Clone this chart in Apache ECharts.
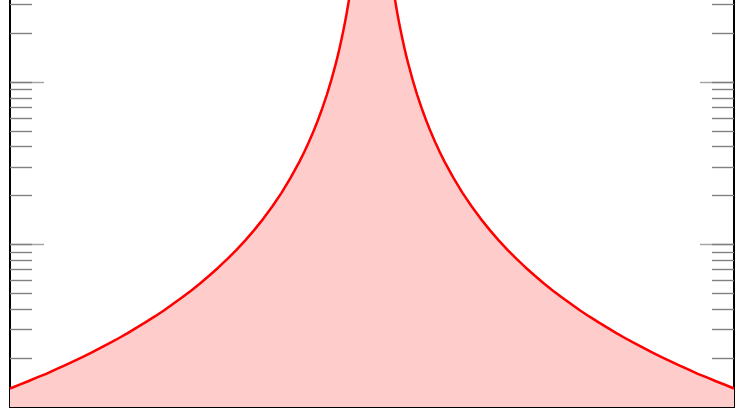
<!DOCTYPE html>
<html>
<head>
<meta charset="utf-8">
<script src="https://cdn.jsdelivr.net/npm/echarts@6/dist/echarts.min.js"></script>
<style>html,body{margin:0;padding:0;background:#fff}#c{width:745px;height:420px}</style>
</head>
<body>
<div id="c"></div>
<script>
// x positions (right half; the curve is symmetric) and the values
const xHalf = [0.03, 0.04, 0.05, 0.055, 0.06, 0.065, 0.07, 0.075, 0.08, 0.085, 0.09, 0.095, 0.10, 0.1125, 0.125, 0.1375, 0.15, 0.1625, 0.175, 0.1875, 0.20, 0.225, 0.25, 0.275, 0.30, 0.325, 0.35, 0.375, 0.40, 0.425, 0.45, 0.475, 0.50, 0.525, 0.55, 0.575, 0.60, 0.625, 0.65, 0.675, 0.70, 0.725, 0.75, 0.775, 0.80, 0.825, 0.85, 0.875, 0.90, 0.925, 0.95, 0.975, 1.00];
const yHalf = [144, 81.3, 52, 43.0, 36.1, 30.8, 26.5, 23.1, 20.3, 18.0, 16.05, 14.4, 13.0, 10.27, 8.32, 6.88, 5.78, 4.92, 4.245, 3.70, 3.25, 2.57, 2.08, 1.719, 1.444, 1.231, 1.061, 0.924, 0.813, 0.720, 0.642, 0.576, 0.520, 0.472, 0.430, 0.393, 0.361, 0.333, 0.308, 0.285, 0.265, 0.247, 0.231, 0.216, 0.203, 0.191, 0.180, 0.170, 0.160, 0.152, 0.144, 0.137, 0.130];
const majorTicks = [1, 10];
const minorTicks = [0.2, 0.3, 0.4, 0.5, 0.6, 0.7, 0.8, 0.9, 1, 2, 3, 4, 5, 6, 7, 8, 9, 10, 20, 30];
const yMin = 0.1, yMax = 32;

const pts = [];
for (let i = xHalf.length - 1; i >= 0; i--) pts.push([-xHalf[i], yHalf[i]]);
for (let i = 0; i < xHalf.length; i++) pts.push([xHalf[i], yHalf[i]]);

function yAx(pos, ticks, len, color, showLine) {
  return {
    type: 'log', logBase: 10, min: yMin, max: yMax, position: pos,
    axisLine: { show: showLine, onZero: false, lineStyle: { color: '#000', width: 2 } },
    axisTick: { show: true, inside: true, length: len, customValues: ticks, lineStyle: { color: color, width: 1.4 } },
    minorTick: { show: false },
    axisLabel: { show: false }, splitLine: { show: false }
  };
}

const chart = echarts.init(document.getElementById('c'), null, { renderer: 'canvas' });
chart.setOption({
  animation: false,
  backgroundColor: '#fff',
  grid: { left: 10, right: 11, top: 0, bottom: 13, containLabel: false },
  xAxis: {
    type: 'value', min: -1, max: 1,
    axisLine: { show: true, onZero: false, lineStyle: { color: '#000', width: 2 } },
    axisTick: { show: false }, axisLabel: { show: false }, splitLine: { show: false }
  },
  yAxis: [
    yAx('left', majorTicks, 34, '#a6a6a6', false),
    yAx('left', minorTicks, 22, '#808080', true),
    yAx('right', majorTicks, 34, '#a6a6a6', false),
    yAx('right', minorTicks, 22, '#808080', true)
  ],
  series: [{
    type: 'line', yAxisIndex: 1, data: pts, symbol: 'none',
    smooth: false, clip: true,
    lineStyle: { color: '#ff0000', width: 2.5, join: 'round' },
    areaStyle: { color: '#ffcccc', opacity: 1, origin: 'start' },
    z: 1
  }]
});
</script>
</body>
</html>
